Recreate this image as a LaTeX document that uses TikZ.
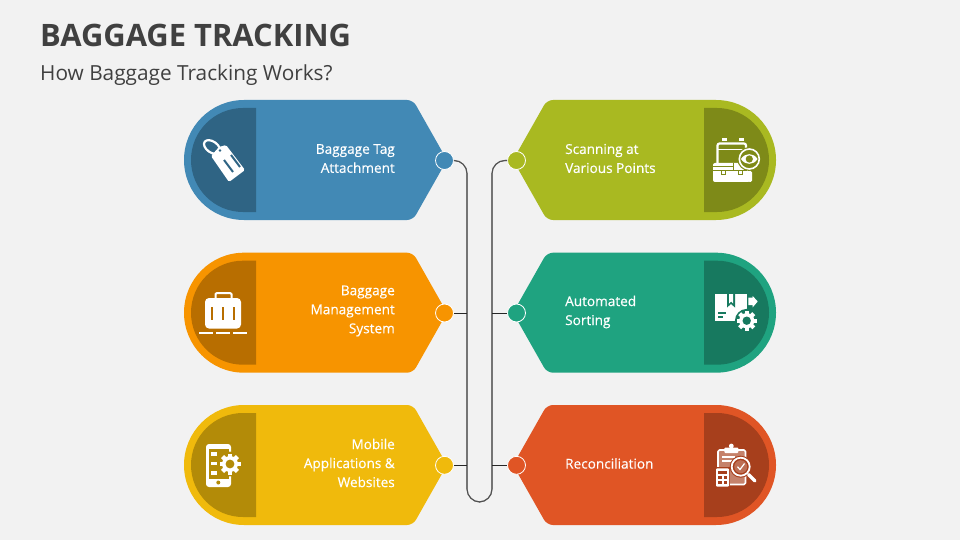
\documentclass[tikz,border=0pt]{standalone}
\usepackage{fontspec}
\setmainfont{Open Sans}
\newfontfamily\labelfont[FakeBold=0.4]{Open Sans}
\definecolor{bgc}{HTML}{F2F2F2}
\definecolor{ink}{HTML}{404040}
\definecolor{blueA}{HTML}{4289B5}\definecolor{blueB}{HTML}{2F6484}
\definecolor{orngA}{HTML}{F79400}\definecolor{orngB}{HTML}{B86E00}
\definecolor{yellA}{HTML}{F0BA0C}\definecolor{yellB}{HTML}{B38B08}
\definecolor{grnA}{HTML}{A9B921}\definecolor{grnB}{HTML}{7E8A18}
\definecolor{tealA}{HTML}{1FA380}\definecolor{tealB}{HTML}{17795F}
\definecolor{redA}{HTML}{E05525}\definecolor{redB}{HTML}{A73F1C}
\tikzset{
  dot/.style={circle,draw=white,line width=0.8pt,minimum size=18pt,inner sep=0pt},
  lab/.style={text=white,font=\labelfont\fontsize{13.6}{19}\selectfont,inner sep=0pt},
  labL/.style={lab,align=right,anchor=east},
  labR/.style={lab,align=left,anchor=west},
  spine/.style={draw=#1,line width=1.1pt,rounded corners=13pt},
  stub/.style={draw=black!85,line width=0.9pt},
  ico/.style={draw=white,line width=2pt,line cap=round,line join=round},
}
% cy, fill, dark
\newcommand\lpanel[3]{%
  \fill[#2] (244,#1-60) [rounded corners=6pt] -- (413,#1-60) -- (447,#1) -- (413,#1+60) [sharp corners] -- (244,#1+60)
     arc[start angle=270,end angle=90,radius=60pt] -- cycle;
  \fill[#3] (256,#1-52) -- (243,#1-52) arc[start angle=90,end angle=270,radius=52pt] -- (256,#1+52) -- cycle;}
\newcommand\rpanel[3]{%
  \fill[#2] (716,#1-60) [rounded corners=6pt] -- (547,#1-60) -- (513,#1) -- (547,#1+60) [sharp corners] -- (716,#1+60)
     arc[start angle=-90,end angle=90,radius=60pt] -- cycle;
  \fill[#3] (704,#1-52) -- (717,#1-52) arc[start angle=90,end angle=-90,radius=52pt] -- (704,#1+52) -- cycle;}
% cx, cy, r, dark
\newcommand\gearicon[4]{%
  \fill[#4] (#1,#2) circle[radius=#3*1.18pt];
  \foreach \a in {0,45,...,315}{\draw[white,line width=#3*0.42pt] (#1,#2) -- ++(\a:#3*1pt);}
  \fill[white] (#1,#2) circle[radius=#3*0.76pt];
  \fill[#4] (#1,#2) circle[radius=#3*0.42pt];}
\begin{document}
\begin{tikzpicture}[x=1pt,y=-1pt]
\useasboundingbox (0,0) rectangle (960,540);
\fill[bgc] (0,0) rectangle (960,540);
\node[anchor=west,inner sep=0pt,text=ink,font=\bfseries\fontsize{30.9}{38}\selectfont] (title) at (40,35) {BAGGAGE TRACKING};
\node[anchor=west,inner sep=0pt,text=ink,font=\fontsize{20.8}{24}\selectfont] (sub) at (40,75.5) {How Baggage Tracking Works?};

\lpanel{160}{blueA}{blueB}
\lpanel{312.7}{orngA}{orngB}
\lpanel{465}{yellA}{yellB}
\rpanel{160}{grnA}{grnB}
\rpanel{312.7}{tealA}{tealB}
\rpanel{465}{redA}{redB}

\coordinate (bl) at (467,502);
\coordinate (br) at (492,502);
\node[dot,fill=blueA] (c1) at (444.5,160.5) {};
\node[dot,fill=orngA] (c2) at (444.5,313) {};
\node[dot,fill=yellA] (c3) at (444.5,465.3) {};
\node[dot,fill=grnA] (c4) at (516.5,160.5) {};
\node[dot,fill=tealA] (c5) at (516.5,313) {};
\node[dot,fill=redA] (c6) at (516.5,465.3) {};
\coordinate (s2) at (467,313);\coordinate (s3) at (467,465.3);
\coordinate (s5) at (492,313);\coordinate (s6) at (492,465.3);

\draw[spine=black!40,xshift=0.9pt] (c1.east) -| (bl) -- (br) |- (c4.west);
\draw[spine=black!68] (c1.east) -| (bl) -- (br) |- (c4.west);
\draw[stub] (c2.east) -- (s2);
\draw[stub] (c3.east) -- (s3);
\draw[stub] (c5.west) -- (s5);
\draw[stub] (c6.west) -- (s6);

\node[labL] (t1) at (395,158.5) {Baggage Tag\\Attachment};
\node[labL] (t2) at (395,311) {Baggage\\Management\\System};
\node[labL] (t3) at (395,463) {Mobile\\Applications \&\\Websites};
\node[labR] (t4) at (565,158.5) {Scanning at\\Various Points};
\node[labR] (t5) at (565,312) {Automated\\Sorting};
\node[labR] (t6) at (565,463.5) {Reconciliation};

% --- tag icon
\draw[ico,line width=2.2pt] (212,147) ellipse[x radius=9pt,y radius=5.5pt,rotate=-35];
\fill[white,rounded corners=1.5pt] (211,156) -- (219,147) -- (226,145) -- (245,170) -- (229,182) -- cycle;
\fill[blueB] (220,150.5) circle[radius=1.3pt];
\draw[blueB,line width=2pt] (224,160) -- (233,172);
\draw[blueB,line width=2pt] (231,155) -- (240,167);

% --- suitcase icon
\draw[ico] (215.5,298) -- (215.5,294) -- (217,293) -- (230,293) -- (231.5,294) -- (231.5,298);
\fill[white,rounded corners=4pt] (205,298) rectangle (241,328.5);
\foreach \x in {212,223,234}{\fill[orngB] (\x-1.2,307) rectangle (\x+1.2,320);}
\foreach \x in {199,216,233}{\fill[white] (\x,331.8) rectangle (\x+14,333.8);}

% --- phone icon
\fill[white,rounded corners=3pt] (206,444) rectangle (231,487);
\fill[yellB] (208.5,449) rectangle (228.5,479);
\foreach \y in {452,461.5,471}{\fill[white] (211,\y) rectangle (217,\y+3.7);}
\fill[yellB] (218.3,482.5) circle[radius=2pt];
\gearicon{230}{464}{10.5}{yellB}

% --- luggage and eye icon
\fill[white] (721.7,137.7) rectangle (726.7,141);
\fill[white] (739.3,137.7) rectangle (744,141);
\draw[ico,line width=2.2pt,rounded corners=2pt] (717.5,164) -- (717.5,143.5) -- (746,143.5) -- (746,164);
\fill[white] (717,150) rectangle (746,149);
\fill[white,rounded corners=2pt] (713,163) rectangle (750,182);
\draw[grnB,line width=1pt] (713,170.5) -- (747,170.5);
\draw[grnB,line width=1pt] (713,166.5) -- (733,166.5);
\draw[grnB,line width=1pt] (733,163) -- (733,171);
\draw[grnB,line width=1pt] (721,171) -- (721,175) -- (725,175) -- (725,171);
\draw[grnB,line width=1pt] (738,171) -- (738,175) -- (742,175) -- (742,171);
\fill[grnB] (749.3,159) circle[radius=12pt];
\fill[white,rounded corners=1.5pt] (748,171) rectangle (752,182);
\draw[white,line width=1.6pt] (749.3,159) circle[radius=10pt];
\fill[white] (741,159) .. controls (745,152.5) and (753.5,152.5) .. (757.5,159) .. controls (753.5,165.5) and (745,165.5) .. (741,159) -- cycle;
\fill[grnB] (749.3,159) circle[radius=3.6pt];

% --- box icon
\fill[white] (715,294) rectangle (747.3,320.7);
\fill[tealB] (727,294) -- (735,294) -- (735,307.5) -- (731,304) -- (727,307.5) -- cycle;
\fill[white] (729,294) -- (733,294) -- (733,303.5) -- (731,301.5) -- (729,303.5) -- cycle;
\fill[tealB] (718.3,312.3) rectangle (726,313.8);
\fill[tealB] (718.3,316.3) rectangle (723.3,317.8);
\fill[white] (748.3,297.7) -- (752.7,297.7) -- (752.7,296) -- (757.7,301.5) -- (752.7,307.3) -- (752.7,305) -- (748.3,305) -- cycle;
\gearicon{746.7}{320.7}{10}{tealB}

% --- clipboard icon
\draw[ico,line width=1.6pt,rounded corners=1.5pt] (718,450) rectangle (745.5,484.5);
\fill[white,opacity=0.35] (719,451) rectangle (744.5,484);
\fill[white,rounded corners=1pt] (724.3,447.5) rectangle (738.3,453);
\fill[white] (731.3,446) circle[radius=2.4pt];
\fill[white] (722,456) rectangle (735,457.5);
\fill[white] (722,460) rectangle (733,461.5);
\fill[redB] (740.7,466.7) circle[radius=11pt];
\draw[white,line width=1.8pt] (740.7,466.7) circle[radius=9pt];
\fill[white,opacity=0.25] (740.7,466.7) circle[radius=6.5pt];
\draw[white,line width=1.2pt] (737.5,466.7) -- (740,469.5) -- (744.5,463.5);
\draw[white,line width=3.5pt,line cap=round] (748.5,474.5) -- (755,481);
\fill[redB] (714.8,467) rectangle (730.2,488);
\fill[white,rounded corners=1pt] (716,468.3) rectangle (729,486.7);
\fill[redB] (718,470.5) rectangle (727,473.5);
\foreach \x in {718,723.5}{\foreach \y in {475.5,480.5}{\fill[redB] (\x,\y) rectangle (\x+3.5,\y+3.5);}}
\end{tikzpicture}
\end{document}
